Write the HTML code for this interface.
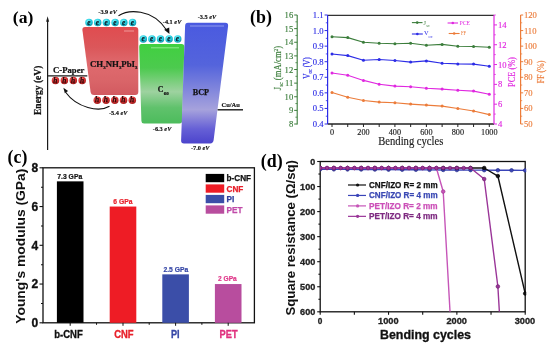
<!DOCTYPE html>
<html><head><meta charset="utf-8"><style>
html,body{margin:0;padding:0;background:#fff;}
svg{display:block;will-change:transform;}
</style></head><body>
<svg width="550" height="349" viewBox="0 0 550 349">
<rect width="550" height="349" fill="#fff"/>
<defs>
<radialGradient id="gc" cx="0.4" cy="0.35" r="0.7">
 <stop offset="0" stop-color="#90f8ff"/><stop offset="0.55" stop-color="#22d0e2"/><stop offset="1" stop-color="#1590aa"/>
</radialGradient>
<radialGradient id="gr" cx="0.4" cy="0.35" r="0.7">
 <stop offset="0" stop-color="#ff9090"/><stop offset="0.5" stop-color="#e03434"/><stop offset="1" stop-color="#a01c1c"/>
</radialGradient>
<linearGradient id="lr" x1="0" y1="0" x2="0" y2="1">
 <stop offset="0" stop-color="#e04c50"/><stop offset="0.3" stop-color="#db575a"/><stop offset="0.55" stop-color="#df6a6e"/><stop offset="0.8" stop-color="#d96468"/><stop offset="1" stop-color="#d25a60"/>
</linearGradient>
<linearGradient id="lg" x1="0" y1="0" x2="0" y2="1">
 <stop offset="0" stop-color="#40d040"/><stop offset="0.3" stop-color="#4cca4e"/><stop offset="0.6" stop-color="#9ed2a0"/><stop offset="0.8" stop-color="#60c26c"/><stop offset="1" stop-color="#4cbc5c"/>
</linearGradient>
<linearGradient id="lb" x1="0" y1="0" x2="0" y2="1">
 <stop offset="0" stop-color="#4a5ae0"/><stop offset="0.35" stop-color="#5464dc"/><stop offset="0.72" stop-color="#a6a2dc"/><stop offset="0.88" stop-color="#6660d6"/><stop offset="1" stop-color="#4c44cc"/>
</linearGradient>
</defs>
<text x="12.8" y="23.2" font-family='"Liberation Serif", serif' font-size="17.6" font-weight="bold" fill="#000" text-anchor="start" >(a)</text>
<line x1="47.6" y1="150" x2="47.6" y2="20" stroke="#1a1a1a" stroke-width="1.2" />
<path d="M47.6,16.2 L46.1,21.8 L49.1,21.8 Z" fill="#1a1a1a"/>
<text transform="translate(40.6,90.3) rotate(-90)" text-anchor="middle" font-family='"Liberation Serif", serif' font-size="9.5" font-weight="bold" fill="#111" stroke="#111" stroke-width="0.2">Energy (eV)</text>
<line x1="47.6" y1="75.8" x2="87.3" y2="75.8" stroke="#1a1a1a" stroke-width="1.2" />
<text x="53" y="72.8" font-family='"Liberation Serif", serif' font-size="8.7" font-weight="bold" fill="#111" text-anchor="start" stroke="#111" stroke-width="0.2" >C-Paper</text>
<path d="M85,27 L135.3,27 Q138.3,27 138.3,30 L138.3,92 Q138.3,95 135.3,95 L94,95 Q91,95 90.6,92 L82.4,30 Q82.2,27 85,27 Z" fill="url(#lr)"/>
<path d="M141.5,44 L181.5,44 Q184.5,44 184.3,47 L182.3,120.5 Q182.2,123.5 179.5,123.5 L144,123.5 Q141.5,123.5 141.4,121 L139.2,47 Q139.2,44 141.5,44 Z" fill="url(#lg)"/>
<path d="M188,22.8 L225.3,22.8 Q228.4,22.8 228.1,26 L213.6,140.3 Q213.2,143.4 210.2,143.4 L184,143.4 Q181,143.4 181.1,140.4 L185.1,26 Q185.2,22.8 188,22.8 Z" fill="url(#lb)"/>
<line x1="124" y1="31" x2="134" y2="31" stroke="#f09a9a" stroke-width="1" />
<line x1="151" y1="47.8" x2="179" y2="47.8" stroke="#98ec98" stroke-width="0.9" />
<line x1="190" y1="26" x2="224" y2="26" stroke="#98a4f0" stroke-width="0.9" />
<text x="90" y="66.5" font-family='"Liberation Serif", serif' font-size="9" font-weight="bold" fill="#111" stroke="#111" stroke-width="0.2" textLength="47.5" lengthAdjust="spacingAndGlyphs">CH<tspan font-size="5" dy="2.5">3</tspan><tspan dy="-2.5">NH</tspan><tspan font-size="5" dy="2.5">3</tspan><tspan dy="-2.5">PbI</tspan><tspan font-size="5" dy="2.5">3</tspan></text>
<text x="157.8" y="91.6" font-family='"Liberation Serif", serif' font-size="7.8" font-weight="bold" fill="#111" stroke="#111" stroke-width="0.2">C<tspan font-size="5" dy="3.2" dx="0.3">60</tspan></text>
<text x="192.8" y="95.1" font-family='"Liberation Serif", serif' font-size="9" font-weight="bold" fill="#111" text-anchor="start" textLength="16.3" lengthAdjust="spacingAndGlyphs" stroke="#111" stroke-width="0.25" >BCP</text>
<line x1="217.6" y1="109.8" x2="243" y2="109.8" stroke="#1a1a1a" stroke-width="1.4" />
<text x="221.5" y="107" font-family='"Liberation Serif", serif' font-size="6.5" font-weight="bold" fill="#111" text-anchor="start" stroke="#111" stroke-width="0.15" >Cu/Au</text>
<text x="98.3" y="13.8" font-family='"Liberation Serif", serif' font-size="6.3" font-weight="bold" fill="#111" stroke="#111" stroke-width="0.15">-3.9 <tspan font-style="italic">eV</tspan></text>
<text x="162.8" y="23.6" font-family='"Liberation Serif", serif' font-size="6.3" font-weight="bold" fill="#111" stroke="#111" stroke-width="0.15">-4.1 <tspan font-style="italic">eV</tspan></text>
<text x="197.7" y="18.6" font-family='"Liberation Serif", serif' font-size="6.3" font-weight="bold" fill="#111" stroke="#111" stroke-width="0.15">-3.5 <tspan font-style="italic">eV</tspan></text>
<text x="109" y="114.5" font-family='"Liberation Serif", serif' font-size="6.3" font-weight="bold" fill="#111" stroke="#111" stroke-width="0.15">-5.4 <tspan font-style="italic">eV</tspan></text>
<text x="152.8" y="131" font-family='"Liberation Serif", serif' font-size="6.3" font-weight="bold" fill="#111" stroke="#111" stroke-width="0.15">-6.3 <tspan font-style="italic">eV</tspan></text>
<text x="191" y="150" font-family='"Liberation Serif", serif' font-size="6.3" font-weight="bold" fill="#111" stroke="#111" stroke-width="0.15">-7.0 <tspan font-style="italic">eV</tspan></text>
<circle cx="89.00" cy="22.60" r="3.75" fill="url(#gc)" stroke="none" stroke-width="0"/>
<text x="88.80" y="24.70" font-family='"Liberation Serif", serif' font-size="7.4" font-weight="bold" font-style="italic" fill="#06202c" stroke="#06202c" stroke-width="0.25" text-anchor="middle">e</text>
<circle cx="97.70" cy="22.60" r="3.75" fill="url(#gc)" stroke="none" stroke-width="0"/>
<text x="97.50" y="24.70" font-family='"Liberation Serif", serif' font-size="7.4" font-weight="bold" font-style="italic" fill="#06202c" stroke="#06202c" stroke-width="0.25" text-anchor="middle">e</text>
<circle cx="106.40" cy="22.60" r="3.75" fill="url(#gc)" stroke="none" stroke-width="0"/>
<text x="106.20" y="24.70" font-family='"Liberation Serif", serif' font-size="7.4" font-weight="bold" font-style="italic" fill="#06202c" stroke="#06202c" stroke-width="0.25" text-anchor="middle">e</text>
<circle cx="115.10" cy="22.60" r="3.75" fill="url(#gc)" stroke="none" stroke-width="0"/>
<text x="114.90" y="24.70" font-family='"Liberation Serif", serif' font-size="7.4" font-weight="bold" font-style="italic" fill="#06202c" stroke="#06202c" stroke-width="0.25" text-anchor="middle">e</text>
<circle cx="123.80" cy="22.60" r="3.75" fill="url(#gc)" stroke="none" stroke-width="0"/>
<text x="123.60" y="24.70" font-family='"Liberation Serif", serif' font-size="7.4" font-weight="bold" font-style="italic" fill="#06202c" stroke="#06202c" stroke-width="0.25" text-anchor="middle">e</text>
<circle cx="132.50" cy="22.60" r="3.75" fill="url(#gc)" stroke="none" stroke-width="0"/>
<text x="132.30" y="24.70" font-family='"Liberation Serif", serif' font-size="7.4" font-weight="bold" font-style="italic" fill="#06202c" stroke="#06202c" stroke-width="0.25" text-anchor="middle">e</text>
<circle cx="143.30" cy="38.90" r="3.75" fill="url(#gc)" stroke="none" stroke-width="0"/>
<text x="143.10" y="41.00" font-family='"Liberation Serif", serif' font-size="7.4" font-weight="bold" font-style="italic" fill="#06202c" stroke="#06202c" stroke-width="0.25" text-anchor="middle">e</text>
<circle cx="151.90" cy="38.90" r="3.75" fill="url(#gc)" stroke="none" stroke-width="0"/>
<text x="151.70" y="41.00" font-family='"Liberation Serif", serif' font-size="7.4" font-weight="bold" font-style="italic" fill="#06202c" stroke="#06202c" stroke-width="0.25" text-anchor="middle">e</text>
<circle cx="160.50" cy="38.90" r="3.75" fill="url(#gc)" stroke="none" stroke-width="0"/>
<text x="160.30" y="41.00" font-family='"Liberation Serif", serif' font-size="7.4" font-weight="bold" font-style="italic" fill="#06202c" stroke="#06202c" stroke-width="0.25" text-anchor="middle">e</text>
<circle cx="169.10" cy="38.90" r="3.75" fill="url(#gc)" stroke="none" stroke-width="0"/>
<text x="168.90" y="41.00" font-family='"Liberation Serif", serif' font-size="7.4" font-weight="bold" font-style="italic" fill="#06202c" stroke="#06202c" stroke-width="0.25" text-anchor="middle">e</text>
<circle cx="177.70" cy="38.90" r="3.75" fill="url(#gc)" stroke="none" stroke-width="0"/>
<text x="177.50" y="41.00" font-family='"Liberation Serif", serif' font-size="7.4" font-weight="bold" font-style="italic" fill="#06202c" stroke="#06202c" stroke-width="0.25" text-anchor="middle">e</text>
<circle cx="55.50" cy="80.50" r="3.75" fill="url(#gr)" stroke="none" stroke-width="0"/>
<text x="55.30" y="82.60" font-family='"Liberation Serif", serif' font-size="7.4" font-weight="bold" font-style="italic" fill="#2a0404" stroke="#2a0404" stroke-width="0.25" text-anchor="middle">h</text>
<circle cx="64.40" cy="80.50" r="3.75" fill="url(#gr)" stroke="none" stroke-width="0"/>
<text x="64.20" y="82.60" font-family='"Liberation Serif", serif' font-size="7.4" font-weight="bold" font-style="italic" fill="#2a0404" stroke="#2a0404" stroke-width="0.25" text-anchor="middle">h</text>
<circle cx="73.30" cy="80.50" r="3.75" fill="url(#gr)" stroke="none" stroke-width="0"/>
<text x="73.10" y="82.60" font-family='"Liberation Serif", serif' font-size="7.4" font-weight="bold" font-style="italic" fill="#2a0404" stroke="#2a0404" stroke-width="0.25" text-anchor="middle">h</text>
<circle cx="82.20" cy="80.50" r="3.75" fill="url(#gr)" stroke="none" stroke-width="0"/>
<text x="82.00" y="82.60" font-family='"Liberation Serif", serif' font-size="7.4" font-weight="bold" font-style="italic" fill="#2a0404" stroke="#2a0404" stroke-width="0.25" text-anchor="middle">h</text>
<circle cx="97.30" cy="100.20" r="3.75" fill="url(#gr)" stroke="none" stroke-width="0"/>
<text x="97.10" y="102.30" font-family='"Liberation Serif", serif' font-size="7.4" font-weight="bold" font-style="italic" fill="#2a0404" stroke="#2a0404" stroke-width="0.25" text-anchor="middle">h</text>
<circle cx="106.05" cy="100.20" r="3.75" fill="url(#gr)" stroke="none" stroke-width="0"/>
<text x="105.85" y="102.30" font-family='"Liberation Serif", serif' font-size="7.4" font-weight="bold" font-style="italic" fill="#2a0404" stroke="#2a0404" stroke-width="0.25" text-anchor="middle">h</text>
<circle cx="114.80" cy="100.20" r="3.75" fill="url(#gr)" stroke="none" stroke-width="0"/>
<text x="114.60" y="102.30" font-family='"Liberation Serif", serif' font-size="7.4" font-weight="bold" font-style="italic" fill="#2a0404" stroke="#2a0404" stroke-width="0.25" text-anchor="middle">h</text>
<circle cx="123.55" cy="100.20" r="3.75" fill="url(#gr)" stroke="none" stroke-width="0"/>
<text x="123.35" y="102.30" font-family='"Liberation Serif", serif' font-size="7.4" font-weight="bold" font-style="italic" fill="#2a0404" stroke="#2a0404" stroke-width="0.25" text-anchor="middle">h</text>
<circle cx="132.30" cy="100.20" r="3.75" fill="url(#gr)" stroke="none" stroke-width="0"/>
<text x="132.10" y="102.30" font-family='"Liberation Serif", serif' font-size="7.4" font-weight="bold" font-style="italic" fill="#2a0404" stroke="#2a0404" stroke-width="0.25" text-anchor="middle">h</text>
<path d="M118.5,15.8 C128,9.5 152,8 166.5,30" fill="none" stroke="#111" stroke-width="1.1"/>
<path d="M169.5,34 L164.2,29.8 L169.2,27.6 Z" fill="#111"/>
<path d="M109.5,106.3 C99,112.5 77,108 65.6,92.3" fill="none" stroke="#111" stroke-width="1.1"/>
<path d="M63.4,87.8 L68.1,90.9 L64.8,93.3 Z" fill="#111"/>
<text x="250.0" y="23.2" font-family='"Liberation Serif", serif' font-size="17.9" font-weight="bold" fill="#000" text-anchor="start" >(b)</text>
<line x1="327.6" y1="15.3" x2="494" y2="15.3" stroke="#333" stroke-width="1.2" />
<line x1="327.6" y1="124.0" x2="494" y2="124.0" stroke="#222" stroke-width="1.3" />
<line x1="332.0" y1="124.0" x2="332.0" y2="127.0" stroke="#222" stroke-width="1" />
<line x1="347.73" y1="124.0" x2="347.73" y2="127.0" stroke="#222" stroke-width="1" />
<line x1="363.46" y1="124.0" x2="363.46" y2="127.0" stroke="#222" stroke-width="1" />
<line x1="379.19" y1="124.0" x2="379.19" y2="127.0" stroke="#222" stroke-width="1" />
<line x1="394.92" y1="124.0" x2="394.92" y2="127.0" stroke="#222" stroke-width="1" />
<line x1="410.65" y1="124.0" x2="410.65" y2="127.0" stroke="#222" stroke-width="1" />
<line x1="426.38" y1="124.0" x2="426.38" y2="127.0" stroke="#222" stroke-width="1" />
<line x1="442.11" y1="124.0" x2="442.11" y2="127.0" stroke="#222" stroke-width="1" />
<line x1="457.84000000000003" y1="124.0" x2="457.84000000000003" y2="127.0" stroke="#222" stroke-width="1" />
<line x1="473.57" y1="124.0" x2="473.57" y2="127.0" stroke="#222" stroke-width="1" />
<line x1="489.29999999999995" y1="124.0" x2="489.29999999999995" y2="127.0" stroke="#222" stroke-width="1" />
<text x="332.0" y="134.5" font-family='"Liberation Serif", serif' font-size="8.2" font-weight="normal" fill="#222" text-anchor="middle" stroke="#222" stroke-width="0.15" >0</text>
<text x="363.46" y="134.5" font-family='"Liberation Serif", serif' font-size="8.2" font-weight="normal" fill="#222" text-anchor="middle" stroke="#222" stroke-width="0.15" >200</text>
<text x="394.92" y="134.5" font-family='"Liberation Serif", serif' font-size="8.2" font-weight="normal" fill="#222" text-anchor="middle" stroke="#222" stroke-width="0.15" >400</text>
<text x="426.38" y="134.5" font-family='"Liberation Serif", serif' font-size="8.2" font-weight="normal" fill="#222" text-anchor="middle" stroke="#222" stroke-width="0.15" >600</text>
<text x="457.84000000000003" y="134.5" font-family='"Liberation Serif", serif' font-size="8.2" font-weight="normal" fill="#222" text-anchor="middle" stroke="#222" stroke-width="0.15" >800</text>
<text x="489.29999999999995" y="134.5" font-family='"Liberation Serif", serif' font-size="8.2" font-weight="normal" fill="#222" text-anchor="middle" stroke="#222" stroke-width="0.15" >1000</text>
<text x="378.3" y="145.1" font-family='"Liberation Serif", serif' font-size="12" font-weight="normal" fill="#222" text-anchor="start" textLength="65" lengthAdjust="spacingAndGlyphs" stroke="#222" stroke-width="0.15" >Bending cycles</text>
<line x1="297.2" y1="15.0" x2="297.2" y2="124.5" stroke="#3b7d3b" stroke-width="1.1" />
<line x1="294.2" y1="124.0" x2="297.2" y2="124.0" stroke="#3b7d3b" stroke-width="1" />
<text x="293.2" y="127.0" font-family='"Liberation Serif", serif' font-size="8.6" font-weight="normal" fill="#3b7d3b" text-anchor="end" stroke="#3b7d3b" stroke-width="0.15" >8</text>
<line x1="294.2" y1="110.375" x2="297.2" y2="110.375" stroke="#3b7d3b" stroke-width="1" />
<text x="293.2" y="113.375" font-family='"Liberation Serif", serif' font-size="8.6" font-weight="normal" fill="#3b7d3b" text-anchor="end" stroke="#3b7d3b" stroke-width="0.15" >9</text>
<line x1="294.2" y1="96.75" x2="297.2" y2="96.75" stroke="#3b7d3b" stroke-width="1" />
<text x="293.2" y="99.75" font-family='"Liberation Serif", serif' font-size="8.6" font-weight="normal" fill="#3b7d3b" text-anchor="end" stroke="#3b7d3b" stroke-width="0.15" >10</text>
<line x1="294.2" y1="83.125" x2="297.2" y2="83.125" stroke="#3b7d3b" stroke-width="1" />
<text x="293.2" y="86.125" font-family='"Liberation Serif", serif' font-size="8.6" font-weight="normal" fill="#3b7d3b" text-anchor="end" stroke="#3b7d3b" stroke-width="0.15" >11</text>
<line x1="294.2" y1="69.5" x2="297.2" y2="69.5" stroke="#3b7d3b" stroke-width="1" />
<text x="293.2" y="72.5" font-family='"Liberation Serif", serif' font-size="8.6" font-weight="normal" fill="#3b7d3b" text-anchor="end" stroke="#3b7d3b" stroke-width="0.15" >12</text>
<line x1="294.2" y1="55.875" x2="297.2" y2="55.875" stroke="#3b7d3b" stroke-width="1" />
<text x="293.2" y="58.875" font-family='"Liberation Serif", serif' font-size="8.6" font-weight="normal" fill="#3b7d3b" text-anchor="end" stroke="#3b7d3b" stroke-width="0.15" >13</text>
<line x1="294.2" y1="42.25" x2="297.2" y2="42.25" stroke="#3b7d3b" stroke-width="1" />
<text x="293.2" y="45.25" font-family='"Liberation Serif", serif' font-size="8.6" font-weight="normal" fill="#3b7d3b" text-anchor="end" stroke="#3b7d3b" stroke-width="0.15" >14</text>
<line x1="294.2" y1="28.625" x2="297.2" y2="28.625" stroke="#3b7d3b" stroke-width="1" />
<text x="293.2" y="31.625" font-family='"Liberation Serif", serif' font-size="8.6" font-weight="normal" fill="#3b7d3b" text-anchor="end" stroke="#3b7d3b" stroke-width="0.15" >15</text>
<line x1="294.2" y1="15.0" x2="297.2" y2="15.0" stroke="#3b7d3b" stroke-width="1" />
<text x="293.2" y="18.0" font-family='"Liberation Serif", serif' font-size="8.6" font-weight="normal" fill="#3b7d3b" text-anchor="end" stroke="#3b7d3b" stroke-width="0.15" >16</text>
<line x1="295.4" y1="117.1875" x2="297.2" y2="117.1875" stroke="#3b7d3b" stroke-width="0.8" />
<line x1="295.4" y1="103.5625" x2="297.2" y2="103.5625" stroke="#3b7d3b" stroke-width="0.8" />
<line x1="295.4" y1="89.9375" x2="297.2" y2="89.9375" stroke="#3b7d3b" stroke-width="0.8" />
<line x1="295.4" y1="76.3125" x2="297.2" y2="76.3125" stroke="#3b7d3b" stroke-width="0.8" />
<line x1="295.4" y1="62.6875" x2="297.2" y2="62.6875" stroke="#3b7d3b" stroke-width="0.8" />
<line x1="295.4" y1="49.0625" x2="297.2" y2="49.0625" stroke="#3b7d3b" stroke-width="0.8" />
<line x1="295.4" y1="35.4375" x2="297.2" y2="35.4375" stroke="#3b7d3b" stroke-width="0.8" />
<line x1="295.4" y1="21.8125" x2="297.2" y2="21.8125" stroke="#3b7d3b" stroke-width="0.8" />
<text transform="translate(281.3,68) rotate(-90)" text-anchor="middle" font-family='"Liberation Serif", serif' font-size="9.5" fill="#3b7d3b" stroke="#3b7d3b" stroke-width="0.15" textLength="44.4" lengthAdjust="spacingAndGlyphs">J<tspan font-size="6" dy="2">sc</tspan><tspan dy="-2"> (mA/cm</tspan><tspan font-size="6" dy="-3">2</tspan><tspan dy="3">)</tspan></text>
<line x1="327.6" y1="15.0" x2="327.6" y2="124.0" stroke="#2c2ce6" stroke-width="1.2" />
<line x1="324.6" y1="124.0" x2="327.6" y2="124.0" stroke="#2c2ce6" stroke-width="1" />
<text x="323.6" y="127.0" font-family='"Liberation Serif", serif' font-size="8.6" font-weight="normal" fill="#2c2ce6" text-anchor="end" stroke="#2c2ce6" stroke-width="0.15" >0.4</text>
<line x1="324.6" y1="108.42857142857143" x2="327.6" y2="108.42857142857143" stroke="#2c2ce6" stroke-width="1" />
<text x="323.6" y="111.42857142857143" font-family='"Liberation Serif", serif' font-size="8.6" font-weight="normal" fill="#2c2ce6" text-anchor="end" stroke="#2c2ce6" stroke-width="0.15" >0.5</text>
<line x1="324.6" y1="92.85714285714285" x2="327.6" y2="92.85714285714285" stroke="#2c2ce6" stroke-width="1" />
<text x="323.6" y="95.85714285714285" font-family='"Liberation Serif", serif' font-size="8.6" font-weight="normal" fill="#2c2ce6" text-anchor="end" stroke="#2c2ce6" stroke-width="0.15" >0.6</text>
<line x1="324.6" y1="77.28571428571428" x2="327.6" y2="77.28571428571428" stroke="#2c2ce6" stroke-width="1" />
<text x="323.6" y="80.28571428571428" font-family='"Liberation Serif", serif' font-size="8.6" font-weight="normal" fill="#2c2ce6" text-anchor="end" stroke="#2c2ce6" stroke-width="0.15" >0.7</text>
<line x1="324.6" y1="61.71428571428571" x2="327.6" y2="61.71428571428571" stroke="#2c2ce6" stroke-width="1" />
<text x="323.6" y="64.71428571428571" font-family='"Liberation Serif", serif' font-size="8.6" font-weight="normal" fill="#2c2ce6" text-anchor="end" stroke="#2c2ce6" stroke-width="0.15" >0.8</text>
<line x1="324.6" y1="46.14285714285714" x2="327.6" y2="46.14285714285714" stroke="#2c2ce6" stroke-width="1" />
<text x="323.6" y="49.14285714285714" font-family='"Liberation Serif", serif' font-size="8.6" font-weight="normal" fill="#2c2ce6" text-anchor="end" stroke="#2c2ce6" stroke-width="0.15" >0.9</text>
<line x1="324.6" y1="30.571428571428584" x2="327.6" y2="30.571428571428584" stroke="#2c2ce6" stroke-width="1" />
<text x="323.6" y="33.571428571428584" font-family='"Liberation Serif", serif' font-size="8.6" font-weight="normal" fill="#2c2ce6" text-anchor="end" stroke="#2c2ce6" stroke-width="0.15" >1.0</text>
<line x1="324.6" y1="14.999999999999972" x2="327.6" y2="14.999999999999972" stroke="#2c2ce6" stroke-width="1" />
<text x="323.6" y="17.99999999999997" font-family='"Liberation Serif", serif' font-size="8.6" font-weight="normal" fill="#2c2ce6" text-anchor="end" stroke="#2c2ce6" stroke-width="0.15" >1.1</text>
<line x1="325.8" y1="116.21428571428572" x2="327.6" y2="116.21428571428572" stroke="#2c2ce6" stroke-width="0.8" />
<line x1="325.8" y1="100.64285714285714" x2="327.6" y2="100.64285714285714" stroke="#2c2ce6" stroke-width="0.8" />
<line x1="325.8" y1="85.07142857142857" x2="327.6" y2="85.07142857142857" stroke="#2c2ce6" stroke-width="0.8" />
<line x1="325.8" y1="69.5" x2="327.6" y2="69.5" stroke="#2c2ce6" stroke-width="0.8" />
<line x1="325.8" y1="53.928571428571416" x2="327.6" y2="53.928571428571416" stroke="#2c2ce6" stroke-width="0.8" />
<line x1="325.8" y1="38.35714285714286" x2="327.6" y2="38.35714285714286" stroke="#2c2ce6" stroke-width="0.8" />
<line x1="325.8" y1="22.785714285714263" x2="327.6" y2="22.785714285714263" stroke="#2c2ce6" stroke-width="0.8" />
<text transform="translate(310.3,68) rotate(-90)" text-anchor="middle" font-family='"Liberation Serif", serif' font-size="9.5" fill="#2c2ce6" stroke="#2c2ce6" stroke-width="0.15" textLength="21.5" lengthAdjust="spacingAndGlyphs">V<tspan font-size="6" dy="2">oc</tspan><tspan dy="-2"> (V)</tspan></text>
<line x1="494.0" y1="15.0" x2="494.0" y2="124.0" stroke="#e028e0" stroke-width="1.2" />
<line x1="494.0" y1="124.0" x2="497.0" y2="124.0" stroke="#e028e0" stroke-width="1" />
<text x="498.0" y="127.0" font-family='"Liberation Serif", serif' font-size="8.6" font-weight="normal" fill="#e028e0" text-anchor="start" stroke="#e028e0" stroke-width="0.15" >4</text>
<line x1="494.0" y1="114.0909090909091" x2="495.8" y2="114.0909090909091" stroke="#e028e0" stroke-width="0.8" />
<line x1="494.0" y1="104.18181818181819" x2="497.0" y2="104.18181818181819" stroke="#e028e0" stroke-width="1" />
<text x="498.0" y="107.18181818181819" font-family='"Liberation Serif", serif' font-size="8.6" font-weight="normal" fill="#e028e0" text-anchor="start" stroke="#e028e0" stroke-width="0.15" >6</text>
<line x1="494.0" y1="94.27272727272728" x2="495.8" y2="94.27272727272728" stroke="#e028e0" stroke-width="0.8" />
<line x1="494.0" y1="84.36363636363637" x2="497.0" y2="84.36363636363637" stroke="#e028e0" stroke-width="1" />
<text x="498.0" y="87.36363636363637" font-family='"Liberation Serif", serif' font-size="8.6" font-weight="normal" fill="#e028e0" text-anchor="start" stroke="#e028e0" stroke-width="0.15" >8</text>
<line x1="494.0" y1="74.45454545454545" x2="495.8" y2="74.45454545454545" stroke="#e028e0" stroke-width="0.8" />
<line x1="494.0" y1="64.54545454545455" x2="497.0" y2="64.54545454545455" stroke="#e028e0" stroke-width="1" />
<text x="498.0" y="67.54545454545455" font-family='"Liberation Serif", serif' font-size="8.6" font-weight="normal" fill="#e028e0" text-anchor="start" stroke="#e028e0" stroke-width="0.15" >10</text>
<line x1="494.0" y1="54.63636363636364" x2="495.8" y2="54.63636363636364" stroke="#e028e0" stroke-width="0.8" />
<line x1="494.0" y1="44.727272727272734" x2="497.0" y2="44.727272727272734" stroke="#e028e0" stroke-width="1" />
<text x="498.0" y="47.727272727272734" font-family='"Liberation Serif", serif' font-size="8.6" font-weight="normal" fill="#e028e0" text-anchor="start" stroke="#e028e0" stroke-width="0.15" >12</text>
<line x1="494.0" y1="34.81818181818181" x2="495.8" y2="34.81818181818181" stroke="#e028e0" stroke-width="0.8" />
<line x1="494.0" y1="24.909090909090907" x2="497.0" y2="24.909090909090907" stroke="#e028e0" stroke-width="1" />
<text x="498.0" y="27.909090909090907" font-family='"Liberation Serif", serif' font-size="8.6" font-weight="normal" fill="#e028e0" text-anchor="start" stroke="#e028e0" stroke-width="0.15" >14</text>
<line x1="494.0" y1="15.0" x2="495.8" y2="15.0" stroke="#e028e0" stroke-width="0.8" />
<text transform="translate(515.3,72.05) rotate(-90)" text-anchor="middle" font-family='"Liberation Serif", serif' font-size="9.3" fill="#e028e0" stroke="#e028e0" stroke-width="0.15" textLength="29.7" lengthAdjust="spacingAndGlyphs">PCE (%)</text>
<line x1="520.6" y1="15.0" x2="520.6" y2="124.0" stroke="#ec7c3a" stroke-width="1.2" />
<line x1="520.6" y1="124.0" x2="523.2" y2="124.0" stroke="#ec7c3a" stroke-width="1" />
<text x="523.9" y="127.0" font-family='"Liberation Serif", serif' font-size="8.6" font-weight="normal" fill="#ec7c3a" text-anchor="start" stroke="#ec7c3a" stroke-width="0.15" >50</text>
<line x1="520.6" y1="116.21428571428571" x2="522.2" y2="116.21428571428571" stroke="#ec7c3a" stroke-width="0.8" />
<line x1="520.6" y1="108.42857142857143" x2="523.2" y2="108.42857142857143" stroke="#ec7c3a" stroke-width="1" />
<text x="523.9" y="111.42857142857143" font-family='"Liberation Serif", serif' font-size="8.6" font-weight="normal" fill="#ec7c3a" text-anchor="start" stroke="#ec7c3a" stroke-width="0.15" >60</text>
<line x1="520.6" y1="100.64285714285714" x2="522.2" y2="100.64285714285714" stroke="#ec7c3a" stroke-width="0.8" />
<line x1="520.6" y1="92.85714285714286" x2="523.2" y2="92.85714285714286" stroke="#ec7c3a" stroke-width="1" />
<text x="523.9" y="95.85714285714286" font-family='"Liberation Serif", serif' font-size="8.6" font-weight="normal" fill="#ec7c3a" text-anchor="start" stroke="#ec7c3a" stroke-width="0.15" >70</text>
<line x1="520.6" y1="85.07142857142857" x2="522.2" y2="85.07142857142857" stroke="#ec7c3a" stroke-width="0.8" />
<line x1="520.6" y1="77.28571428571428" x2="523.2" y2="77.28571428571428" stroke="#ec7c3a" stroke-width="1" />
<text x="523.9" y="80.28571428571428" font-family='"Liberation Serif", serif' font-size="8.6" font-weight="normal" fill="#ec7c3a" text-anchor="start" stroke="#ec7c3a" stroke-width="0.15" >80</text>
<line x1="520.6" y1="69.5" x2="522.2" y2="69.5" stroke="#ec7c3a" stroke-width="0.8" />
<line x1="520.6" y1="61.714285714285715" x2="523.2" y2="61.714285714285715" stroke="#ec7c3a" stroke-width="1" />
<text x="523.9" y="64.71428571428572" font-family='"Liberation Serif", serif' font-size="8.6" font-weight="normal" fill="#ec7c3a" text-anchor="start" stroke="#ec7c3a" stroke-width="0.15" >90</text>
<line x1="520.6" y1="53.92857142857143" x2="522.2" y2="53.92857142857143" stroke="#ec7c3a" stroke-width="0.8" />
<line x1="520.6" y1="46.14285714285714" x2="523.2" y2="46.14285714285714" stroke="#ec7c3a" stroke-width="1" />
<text x="523.9" y="49.14285714285714" font-family='"Liberation Serif", serif' font-size="8.6" font-weight="normal" fill="#ec7c3a" text-anchor="start" stroke="#ec7c3a" stroke-width="0.15" >100</text>
<line x1="520.6" y1="38.35714285714286" x2="522.2" y2="38.35714285714286" stroke="#ec7c3a" stroke-width="0.8" />
<line x1="520.6" y1="30.57142857142857" x2="523.2" y2="30.57142857142857" stroke="#ec7c3a" stroke-width="1" />
<text x="523.9" y="33.57142857142857" font-family='"Liberation Serif", serif' font-size="8.6" font-weight="normal" fill="#ec7c3a" text-anchor="start" stroke="#ec7c3a" stroke-width="0.15" >110</text>
<line x1="520.6" y1="22.785714285714292" x2="522.2" y2="22.785714285714292" stroke="#ec7c3a" stroke-width="0.8" />
<line x1="520.6" y1="15.0" x2="523.2" y2="15.0" stroke="#ec7c3a" stroke-width="1" />
<text x="523.9" y="18.0" font-family='"Liberation Serif", serif' font-size="8.6" font-weight="normal" fill="#ec7c3a" text-anchor="start" stroke="#ec7c3a" stroke-width="0.15" >120</text>
<text transform="translate(543.5,72.05) rotate(-90)" text-anchor="middle" font-family='"Liberation Serif", serif' font-size="9.3" fill="#ec7c3a" stroke="#ec7c3a" stroke-width="0.15" textLength="22.9" lengthAdjust="spacingAndGlyphs">FF (%)</text>
<polyline points="332.00,36.70 347.73,37.60 363.46,42.30 379.19,43.30 394.92,43.70 410.65,43.30 426.38,45.30 442.11,44.40 457.84,46.30 473.57,46.50 489.30,47.20" fill="none" stroke="#3b7d3b" stroke-width="1.1" stroke-linejoin="round"/>
<circle cx="332.00" cy="36.70" r="1.5" fill="#3b7d3b" stroke="none" stroke-width="0"/>
<circle cx="347.73" cy="37.60" r="1.5" fill="#3b7d3b" stroke="none" stroke-width="0"/>
<circle cx="363.46" cy="42.30" r="1.5" fill="#3b7d3b" stroke="none" stroke-width="0"/>
<circle cx="379.19" cy="43.30" r="1.5" fill="#3b7d3b" stroke="none" stroke-width="0"/>
<circle cx="394.92" cy="43.70" r="1.5" fill="#3b7d3b" stroke="none" stroke-width="0"/>
<circle cx="410.65" cy="43.30" r="1.5" fill="#3b7d3b" stroke="none" stroke-width="0"/>
<circle cx="426.38" cy="45.30" r="1.5" fill="#3b7d3b" stroke="none" stroke-width="0"/>
<circle cx="442.11" cy="44.40" r="1.5" fill="#3b7d3b" stroke="none" stroke-width="0"/>
<circle cx="457.84" cy="46.30" r="1.5" fill="#3b7d3b" stroke="none" stroke-width="0"/>
<circle cx="473.57" cy="46.50" r="1.5" fill="#3b7d3b" stroke="none" stroke-width="0"/>
<circle cx="489.30" cy="47.20" r="1.5" fill="#3b7d3b" stroke="none" stroke-width="0"/>
<polyline points="332.00,54.00 347.73,55.60 363.46,60.20 379.19,59.50 394.92,60.50 410.65,62.10 426.38,60.90 442.11,63.20 457.84,63.90 473.57,64.10 489.30,66.20" fill="none" stroke="#2c2ce6" stroke-width="1.1" stroke-linejoin="round"/>
<circle cx="332.00" cy="54.00" r="1.5" fill="#2c2ce6" stroke="none" stroke-width="0"/>
<circle cx="347.73" cy="55.60" r="1.5" fill="#2c2ce6" stroke="none" stroke-width="0"/>
<circle cx="363.46" cy="60.20" r="1.5" fill="#2c2ce6" stroke="none" stroke-width="0"/>
<circle cx="379.19" cy="59.50" r="1.5" fill="#2c2ce6" stroke="none" stroke-width="0"/>
<circle cx="394.92" cy="60.50" r="1.5" fill="#2c2ce6" stroke="none" stroke-width="0"/>
<circle cx="410.65" cy="62.10" r="1.5" fill="#2c2ce6" stroke="none" stroke-width="0"/>
<circle cx="426.38" cy="60.90" r="1.5" fill="#2c2ce6" stroke="none" stroke-width="0"/>
<circle cx="442.11" cy="63.20" r="1.5" fill="#2c2ce6" stroke="none" stroke-width="0"/>
<circle cx="457.84" cy="63.90" r="1.5" fill="#2c2ce6" stroke="none" stroke-width="0"/>
<circle cx="473.57" cy="64.10" r="1.5" fill="#2c2ce6" stroke="none" stroke-width="0"/>
<circle cx="489.30" cy="66.20" r="1.5" fill="#2c2ce6" stroke="none" stroke-width="0"/>
<polyline points="332.00,73.00 347.73,75.30 363.46,80.40 379.19,84.30 394.92,86.10 410.65,86.80 426.38,88.20 442.11,89.10 457.84,90.20 473.57,91.10 489.30,94.30" fill="none" stroke="#e028e0" stroke-width="1.1" stroke-linejoin="round"/>
<circle cx="332.00" cy="73.00" r="1.5" fill="#e028e0" stroke="none" stroke-width="0"/>
<circle cx="347.73" cy="75.30" r="1.5" fill="#e028e0" stroke="none" stroke-width="0"/>
<circle cx="363.46" cy="80.40" r="1.5" fill="#e028e0" stroke="none" stroke-width="0"/>
<circle cx="379.19" cy="84.30" r="1.5" fill="#e028e0" stroke="none" stroke-width="0"/>
<circle cx="394.92" cy="86.10" r="1.5" fill="#e028e0" stroke="none" stroke-width="0"/>
<circle cx="410.65" cy="86.80" r="1.5" fill="#e028e0" stroke="none" stroke-width="0"/>
<circle cx="426.38" cy="88.20" r="1.5" fill="#e028e0" stroke="none" stroke-width="0"/>
<circle cx="442.11" cy="89.10" r="1.5" fill="#e028e0" stroke="none" stroke-width="0"/>
<circle cx="457.84" cy="90.20" r="1.5" fill="#e028e0" stroke="none" stroke-width="0"/>
<circle cx="473.57" cy="91.10" r="1.5" fill="#e028e0" stroke="none" stroke-width="0"/>
<circle cx="489.30" cy="94.30" r="1.5" fill="#e028e0" stroke="none" stroke-width="0"/>
<polyline points="332.00,92.50 347.73,97.30 363.46,100.50 379.19,102.10 394.92,102.80 410.65,104.10 426.38,105.10 442.11,106.10 457.84,108.50 473.57,111.00 489.30,114.60" fill="none" stroke="#ec7c3a" stroke-width="1.1" stroke-linejoin="round"/>
<circle cx="332.00" cy="92.50" r="1.5" fill="#ec7c3a" stroke="none" stroke-width="0"/>
<circle cx="347.73" cy="97.30" r="1.5" fill="#ec7c3a" stroke="none" stroke-width="0"/>
<circle cx="363.46" cy="100.50" r="1.5" fill="#ec7c3a" stroke="none" stroke-width="0"/>
<circle cx="379.19" cy="102.10" r="1.5" fill="#ec7c3a" stroke="none" stroke-width="0"/>
<circle cx="394.92" cy="102.80" r="1.5" fill="#ec7c3a" stroke="none" stroke-width="0"/>
<circle cx="410.65" cy="104.10" r="1.5" fill="#ec7c3a" stroke="none" stroke-width="0"/>
<circle cx="426.38" cy="105.10" r="1.5" fill="#ec7c3a" stroke="none" stroke-width="0"/>
<circle cx="442.11" cy="106.10" r="1.5" fill="#ec7c3a" stroke="none" stroke-width="0"/>
<circle cx="457.84" cy="108.50" r="1.5" fill="#ec7c3a" stroke="none" stroke-width="0"/>
<circle cx="473.57" cy="111.00" r="1.5" fill="#ec7c3a" stroke="none" stroke-width="0"/>
<circle cx="489.30" cy="114.60" r="1.5" fill="#ec7c3a" stroke="none" stroke-width="0"/>
<line x1="411.9" y1="22.6" x2="422.5" y2="22.6" stroke="#3b7d3b" stroke-width="1.1" />
<circle cx="417.20" cy="22.60" r="1.3" fill="#3b7d3b" stroke="none" stroke-width="0"/>
<line x1="411.9" y1="34.0" x2="422.8" y2="34.0" stroke="#2c2ce6" stroke-width="1.1" />
<circle cx="417.35" cy="34.00" r="1.3" fill="#2c2ce6" stroke="none" stroke-width="0"/>
<line x1="447.6" y1="23.0" x2="458.0" y2="23.0" stroke="#e028e0" stroke-width="1.1" />
<circle cx="452.80" cy="23.00" r="1.3" fill="#e028e0" stroke="none" stroke-width="0"/>
<line x1="448.7" y1="33.5" x2="459.6" y2="33.5" stroke="#ec7c3a" stroke-width="1.1" />
<circle cx="454.15" cy="33.50" r="1.3" fill="#ec7c3a" stroke="none" stroke-width="0"/>
<text x="423.6" y="24.8" font-family='"Liberation Serif", serif' font-size="6.3" fill="#3b7d3b">J<tspan font-size="4.2" dy="1.8" dx="0.3">sc</tspan></text>
<text x="423.9" y="35" font-family='"Liberation Serif", serif' font-size="6.3" fill="#2c2ce6">V<tspan font-size="4.2" dy="2.6" dx="0.1">oc</tspan></text>
<text x="459.4" y="24.8" font-family='"Liberation Serif", serif' font-size="6.3" font-weight="normal" fill="#e028e0" text-anchor="start" textLength="10.8" lengthAdjust="spacingAndGlyphs" >PCE</text>
<text x="461.0" y="34.8" font-family='"Liberation Serif", serif' font-size="6.3" font-weight="normal" fill="#ec7c3a" text-anchor="start" textLength="5.2" lengthAdjust="spacingAndGlyphs" >FF</text>
<text x="7.6" y="162.6" font-family='"Liberation Serif", serif' font-size="17.8" font-weight="bold" fill="#000" text-anchor="start" >(c)</text>
<rect x="43.0" y="167.8" width="211.4" height="155.0" fill="none" stroke="#111" stroke-width="1.3"/>
<line x1="39.5" y1="322.8" x2="43.0" y2="322.8" stroke="#111" stroke-width="1.1" />
<line x1="41.0" y1="303.425" x2="43.0" y2="303.425" stroke="#111" stroke-width="1.1" />
<line x1="39.5" y1="284.05" x2="43.0" y2="284.05" stroke="#111" stroke-width="1.1" />
<line x1="41.0" y1="264.675" x2="43.0" y2="264.675" stroke="#111" stroke-width="1.1" />
<line x1="39.5" y1="245.3" x2="43.0" y2="245.3" stroke="#111" stroke-width="1.1" />
<line x1="41.0" y1="225.925" x2="43.0" y2="225.925" stroke="#111" stroke-width="1.1" />
<line x1="39.5" y1="206.55" x2="43.0" y2="206.55" stroke="#111" stroke-width="1.1" />
<line x1="41.0" y1="187.175" x2="43.0" y2="187.175" stroke="#111" stroke-width="1.1" />
<line x1="39.5" y1="167.8" x2="43.0" y2="167.8" stroke="#111" stroke-width="1.1" />
<text x="38.2" y="327.1" font-family='"Liberation Sans", sans-serif' font-size="12" font-weight="bold" fill="#111" text-anchor="end" stroke="#111" stroke-width="0.35" >0</text>
<text x="38.2" y="288.35" font-family='"Liberation Sans", sans-serif' font-size="12" font-weight="bold" fill="#111" text-anchor="end" stroke="#111" stroke-width="0.35" >2</text>
<text x="38.2" y="249.60000000000002" font-family='"Liberation Sans", sans-serif' font-size="12" font-weight="bold" fill="#111" text-anchor="end" stroke="#111" stroke-width="0.35" >4</text>
<text x="38.2" y="210.85000000000002" font-family='"Liberation Sans", sans-serif' font-size="12" font-weight="bold" fill="#111" text-anchor="end" stroke="#111" stroke-width="0.35" >6</text>
<text x="38.2" y="172.10000000000002" font-family='"Liberation Sans", sans-serif' font-size="12" font-weight="bold" fill="#111" text-anchor="end" stroke="#111" stroke-width="0.35" >8</text>
<text transform="translate(24.8,246.2) rotate(-90)" text-anchor="middle" font-family='"Liberation Sans", sans-serif' font-size="13.6" font-weight="bold" fill="#111" textLength="155" lengthAdjust="spacingAndGlyphs">Young's modulus (GPa)</text>
<rect x="56.9" y="181.36" width="26.6" height="141.44" fill="#000000"/>
<text x="57.3" y="178.76250000000002" font-family='"Liberation Sans", sans-serif' font-size="6.8" font-weight="bold" fill="#111" text-anchor="start" textLength="24.9" lengthAdjust="spacingAndGlyphs" stroke="#111" stroke-width="0.2" >7.3 GPa</text>
<text x="54.2" y="337.6" font-family='"Liberation Sans", sans-serif' font-size="10" font-weight="bold" fill="#111" text-anchor="start" textLength="28.5" lengthAdjust="spacingAndGlyphs" stroke="#111" stroke-width="0.3" >b-CNF</text>
<line x1="70.2" y1="322.8" x2="70.2" y2="325.8" stroke="#111" stroke-width="1" />
<rect x="109.7" y="206.55" width="26.6" height="116.25" fill="#ee1c25"/>
<text x="113.3" y="203.95000000000002" font-family='"Liberation Sans", sans-serif' font-size="6.8" font-weight="bold" fill="#e8202a" text-anchor="start" textLength="19.1" lengthAdjust="spacingAndGlyphs" stroke="#e8202a" stroke-width="0.2" >6 GPa</text>
<text x="114.2" y="337.6" font-family='"Liberation Sans", sans-serif' font-size="10" font-weight="bold" fill="#e8202a" text-anchor="start" textLength="19.4" lengthAdjust="spacingAndGlyphs" stroke="#e8202a" stroke-width="0.3" >CNF</text>
<line x1="123.0" y1="322.8" x2="123.0" y2="325.8" stroke="#111" stroke-width="1" />
<rect x="162.3" y="274.36" width="26.6" height="48.44" fill="#3b4ea8"/>
<text x="163.5" y="271.7625" font-family='"Liberation Sans", sans-serif' font-size="6.8" font-weight="bold" fill="#3546a6" text-anchor="start" textLength="24.7" lengthAdjust="spacingAndGlyphs" stroke="#3546a6" stroke-width="0.2" >2.5 GPa</text>
<text x="170.9" y="337.6" font-family='"Liberation Sans", sans-serif' font-size="10" font-weight="bold" fill="#3546a6" text-anchor="start" textLength="8.6" lengthAdjust="spacingAndGlyphs" stroke="#3546a6" stroke-width="0.3" >PI</text>
<line x1="175.60000000000002" y1="322.8" x2="175.60000000000002" y2="325.8" stroke="#111" stroke-width="1" />
<rect x="214.9" y="284.05" width="26.6" height="38.75" fill="#b84d9e"/>
<text x="218.0" y="281.45" font-family='"Liberation Sans", sans-serif' font-size="6.8" font-weight="bold" fill="#e0388a" text-anchor="start" textLength="18.8" lengthAdjust="spacingAndGlyphs" stroke="#e0388a" stroke-width="0.2" >2 GPa</text>
<text x="219.6" y="337.6" font-family='"Liberation Sans", sans-serif' font-size="10" font-weight="bold" fill="#e0307e" text-anchor="start" textLength="18.0" lengthAdjust="spacingAndGlyphs" stroke="#e0307e" stroke-width="0.3" >PET</text>
<line x1="228.20000000000002" y1="322.8" x2="228.20000000000002" y2="325.8" stroke="#111" stroke-width="1" />
<line x1="96.535" y1="322.8" x2="96.535" y2="324.8" stroke="#111" stroke-width="1" />
<line x1="149.20499999999998" y1="322.8" x2="149.20499999999998" y2="324.8" stroke="#111" stroke-width="1" />
<line x1="201.875" y1="322.8" x2="201.875" y2="324.8" stroke="#111" stroke-width="1" />
<rect x="205.7" y="173.9" width="18.5" height="8.3" fill="#000"/>
<text x="226.5" y="181.1" font-family='"Liberation Sans", sans-serif' font-size="8.2" font-weight="bold" fill="#111" text-anchor="start" stroke="#111" stroke-width="0.25" >b-CNF</text>
<rect x="205.7" y="184.4" width="18.5" height="8.3" fill="#ee1c25"/>
<text x="226.5" y="191.6" font-family='"Liberation Sans", sans-serif' font-size="8.2" font-weight="bold" fill="#e8202a" text-anchor="start" stroke="#e8202a" stroke-width="0.25" >CNF</text>
<rect x="205.7" y="194.9" width="18.5" height="8.3" fill="#3b4ea8"/>
<text x="226.5" y="202.1" font-family='"Liberation Sans", sans-serif' font-size="8.2" font-weight="bold" fill="#2e3c9c" text-anchor="start" stroke="#2e3c9c" stroke-width="0.25" >PI</text>
<rect x="205.7" y="205.4" width="18.5" height="8.3" fill="#b84d9e"/>
<text x="226.5" y="212.6" font-family='"Liberation Sans", sans-serif' font-size="8.2" font-weight="bold" fill="#c04aa8" text-anchor="start" stroke="#c04aa8" stroke-width="0.25" >PET</text>
<text x="260.8" y="167.4" font-family='"Liberation Serif", serif' font-size="17.9" font-weight="bold" fill="#000" text-anchor="start" >(d)</text>
<rect x="320.2" y="161.5" width="205.00000000000006" height="150.3" fill="none" stroke="#111" stroke-width="1.3"/>
<line x1="317.2" y1="161.5" x2="320.2" y2="161.5" stroke="#111" stroke-width="1.1" />
<line x1="318.4" y1="174.025" x2="320.2" y2="174.025" stroke="#111" stroke-width="1.1" />
<line x1="317.2" y1="186.55" x2="320.2" y2="186.55" stroke="#111" stroke-width="1.1" />
<line x1="318.4" y1="199.075" x2="320.2" y2="199.075" stroke="#111" stroke-width="1.1" />
<line x1="317.2" y1="211.60000000000002" x2="320.2" y2="211.60000000000002" stroke="#111" stroke-width="1.1" />
<line x1="318.4" y1="224.125" x2="320.2" y2="224.125" stroke="#111" stroke-width="1.1" />
<line x1="317.2" y1="236.65" x2="320.2" y2="236.65" stroke="#111" stroke-width="1.1" />
<line x1="318.4" y1="249.175" x2="320.2" y2="249.175" stroke="#111" stroke-width="1.1" />
<line x1="317.2" y1="261.70000000000005" x2="320.2" y2="261.70000000000005" stroke="#111" stroke-width="1.1" />
<line x1="318.4" y1="274.225" x2="320.2" y2="274.225" stroke="#111" stroke-width="1.1" />
<line x1="317.2" y1="286.75" x2="320.2" y2="286.75" stroke="#111" stroke-width="1.1" />
<line x1="318.4" y1="299.275" x2="320.2" y2="299.275" stroke="#111" stroke-width="1.1" />
<line x1="317.2" y1="311.8" x2="320.2" y2="311.8" stroke="#111" stroke-width="1.1" />
<text x="315.3" y="164.5" font-family='"Liberation Sans", sans-serif' font-size="8.4" font-weight="bold" fill="#222" text-anchor="end" textLength="5.0" lengthAdjust="spacingAndGlyphs" stroke="#222" stroke-width="0.3" >0</text>
<text x="315.3" y="189.55" font-family='"Liberation Sans", sans-serif' font-size="8.4" font-weight="bold" fill="#222" text-anchor="end" textLength="15.2" lengthAdjust="spacingAndGlyphs" stroke="#222" stroke-width="0.3" >100</text>
<text x="315.3" y="214.60000000000002" font-family='"Liberation Sans", sans-serif' font-size="8.4" font-weight="bold" fill="#222" text-anchor="end" textLength="15.2" lengthAdjust="spacingAndGlyphs" stroke="#222" stroke-width="0.3" >200</text>
<text x="315.3" y="239.65" font-family='"Liberation Sans", sans-serif' font-size="8.4" font-weight="bold" fill="#222" text-anchor="end" textLength="15.2" lengthAdjust="spacingAndGlyphs" stroke="#222" stroke-width="0.3" >300</text>
<text x="315.3" y="264.70000000000005" font-family='"Liberation Sans", sans-serif' font-size="8.4" font-weight="bold" fill="#222" text-anchor="end" textLength="15.2" lengthAdjust="spacingAndGlyphs" stroke="#222" stroke-width="0.3" >400</text>
<text x="315.3" y="289.75" font-family='"Liberation Sans", sans-serif' font-size="8.4" font-weight="bold" fill="#222" text-anchor="end" textLength="15.2" lengthAdjust="spacingAndGlyphs" stroke="#222" stroke-width="0.3" >500</text>
<text x="315.3" y="314.8" font-family='"Liberation Sans", sans-serif' font-size="8.4" font-weight="bold" fill="#222" text-anchor="end" textLength="15.2" lengthAdjust="spacingAndGlyphs" stroke="#222" stroke-width="0.3" >600</text>
<line x1="320.2" y1="311.8" x2="320.2" y2="314.8" stroke="#111" stroke-width="1.1" />
<line x1="354.3666666666667" y1="311.8" x2="354.3666666666667" y2="314.8" stroke="#111" stroke-width="1.1" />
<line x1="388.53333333333336" y1="311.8" x2="388.53333333333336" y2="314.8" stroke="#111" stroke-width="1.1" />
<line x1="422.7" y1="311.8" x2="422.7" y2="314.8" stroke="#111" stroke-width="1.1" />
<line x1="456.8666666666667" y1="311.8" x2="456.8666666666667" y2="314.8" stroke="#111" stroke-width="1.1" />
<line x1="491.03333333333336" y1="311.8" x2="491.03333333333336" y2="314.8" stroke="#111" stroke-width="1.1" />
<line x1="525.2" y1="311.8" x2="525.2" y2="314.8" stroke="#111" stroke-width="1.1" />
<text x="320.0" y="324.0" font-family='"Liberation Sans", sans-serif' font-size="8.6" font-weight="bold" fill="#222" text-anchor="middle" textLength="4.6" lengthAdjust="spacingAndGlyphs" stroke="#222" stroke-width="0.3" >0</text>
<text x="388.33333333333337" y="324.0" font-family='"Liberation Sans", sans-serif' font-size="8.6" font-weight="bold" fill="#222" text-anchor="middle" textLength="20.5" lengthAdjust="spacingAndGlyphs" stroke="#222" stroke-width="0.3" >1000</text>
<text x="456.6666666666667" y="324.0" font-family='"Liberation Sans", sans-serif' font-size="8.6" font-weight="bold" fill="#222" text-anchor="middle" textLength="20.5" lengthAdjust="spacingAndGlyphs" stroke="#222" stroke-width="0.3" >2000</text>
<text x="525.0" y="324.0" font-family='"Liberation Sans", sans-serif' font-size="8.6" font-weight="bold" fill="#222" text-anchor="middle" textLength="20.5" lengthAdjust="spacingAndGlyphs" stroke="#222" stroke-width="0.3" >3000</text>
<text x="425.5" y="339.2" font-family='"Liberation Sans", sans-serif' font-size="12" font-weight="bold" fill="#111" text-anchor="middle" textLength="91" lengthAdjust="spacingAndGlyphs" stroke="#111" stroke-width="0.3" >Bending cycles</text>
<text transform="translate(294.6,237.8) rotate(-90)" text-anchor="middle" font-family='"Liberation Sans", sans-serif' font-size="13.4" font-weight="bold" fill="#111" textLength="155.6" lengthAdjust="spacingAndGlyphs">Square resistance (&#937;/sq)</text>
<clipPath id="dclip"><rect x="320.2" y="161.5" width="206.00000000000006" height="150.3"/></clipPath>
<g clip-path="url(#dclip)">
<polyline points="320.20,169.27 333.87,169.34 347.53,169.42 361.20,169.49 374.87,169.57 388.53,169.64 402.20,169.72 415.87,169.79 429.53,169.87 443.20,169.94 456.87,170.02 470.53,170.09 484.20,170.17 497.87,170.24 511.53,170.32 525.20,170.39" fill="none" stroke="#3a44b8" stroke-width="1.4" stroke-linejoin="round"/>
<circle cx="320.20" cy="169.27" r="1.8" fill="#3a44b8" stroke="#28308a" stroke-width="0.7"/>
<circle cx="333.87" cy="169.34" r="1.8" fill="#3a44b8" stroke="#28308a" stroke-width="0.7"/>
<circle cx="347.53" cy="169.42" r="1.8" fill="#3a44b8" stroke="#28308a" stroke-width="0.7"/>
<circle cx="361.20" cy="169.49" r="1.8" fill="#3a44b8" stroke="#28308a" stroke-width="0.7"/>
<circle cx="374.87" cy="169.57" r="1.8" fill="#3a44b8" stroke="#28308a" stroke-width="0.7"/>
<circle cx="388.53" cy="169.64" r="1.8" fill="#3a44b8" stroke="#28308a" stroke-width="0.7"/>
<circle cx="402.20" cy="169.72" r="1.8" fill="#3a44b8" stroke="#28308a" stroke-width="0.7"/>
<circle cx="415.87" cy="169.79" r="1.8" fill="#3a44b8" stroke="#28308a" stroke-width="0.7"/>
<circle cx="429.53" cy="169.87" r="1.8" fill="#3a44b8" stroke="#28308a" stroke-width="0.7"/>
<circle cx="443.20" cy="169.94" r="1.8" fill="#3a44b8" stroke="#28308a" stroke-width="0.7"/>
<circle cx="456.87" cy="170.02" r="1.8" fill="#3a44b8" stroke="#28308a" stroke-width="0.7"/>
<circle cx="470.53" cy="170.09" r="1.8" fill="#3a44b8" stroke="#28308a" stroke-width="0.7"/>
<circle cx="484.20" cy="170.17" r="1.8" fill="#3a44b8" stroke="#28308a" stroke-width="0.7"/>
<circle cx="497.87" cy="170.24" r="1.8" fill="#3a44b8" stroke="#28308a" stroke-width="0.7"/>
<circle cx="511.53" cy="170.32" r="1.8" fill="#3a44b8" stroke="#28308a" stroke-width="0.7"/>
<circle cx="525.20" cy="170.39" r="1.8" fill="#3a44b8" stroke="#28308a" stroke-width="0.7"/>
<polyline points="320.20,168.01 333.87,168.01 347.53,168.01 361.20,168.01 374.87,168.01 388.53,168.01 402.20,168.01 415.87,168.01 429.53,168.01 443.20,168.01 456.87,168.01 470.53,168.01 484.20,168.01 497.87,176.03 525.20,293.51" fill="none" stroke="#111111" stroke-width="1.4" stroke-linejoin="round"/>
<circle cx="320.20" cy="168.01" r="1.8" fill="#111111" stroke="#000" stroke-width="0.7"/>
<circle cx="333.87" cy="168.01" r="1.8" fill="#111111" stroke="#000" stroke-width="0.7"/>
<circle cx="347.53" cy="168.01" r="1.8" fill="#111111" stroke="#000" stroke-width="0.7"/>
<circle cx="361.20" cy="168.01" r="1.8" fill="#111111" stroke="#000" stroke-width="0.7"/>
<circle cx="374.87" cy="168.01" r="1.8" fill="#111111" stroke="#000" stroke-width="0.7"/>
<circle cx="388.53" cy="168.01" r="1.8" fill="#111111" stroke="#000" stroke-width="0.7"/>
<circle cx="402.20" cy="168.01" r="1.8" fill="#111111" stroke="#000" stroke-width="0.7"/>
<circle cx="415.87" cy="168.01" r="1.8" fill="#111111" stroke="#000" stroke-width="0.7"/>
<circle cx="429.53" cy="168.01" r="1.8" fill="#111111" stroke="#000" stroke-width="0.7"/>
<circle cx="443.20" cy="168.01" r="1.8" fill="#111111" stroke="#000" stroke-width="0.7"/>
<circle cx="456.87" cy="168.01" r="1.8" fill="#111111" stroke="#000" stroke-width="0.7"/>
<circle cx="470.53" cy="168.01" r="1.8" fill="#111111" stroke="#000" stroke-width="0.7"/>
<circle cx="484.20" cy="168.01" r="1.8" fill="#111111" stroke="#000" stroke-width="0.7"/>
<circle cx="497.87" cy="176.03" r="1.8" fill="#111111" stroke="#000" stroke-width="0.7"/>
<circle cx="525.20" cy="293.51" r="1.8" fill="#111111" stroke="#000" stroke-width="0.7"/>
<polyline points="320.20,168.01 327.03,168.01 333.87,168.01 340.70,168.01 347.53,168.01 354.37,168.01 361.20,168.01 368.03,168.01 374.87,168.01 381.70,168.01 388.53,168.01 395.37,168.01 402.20,168.01 409.03,168.01 415.87,168.01 422.70,168.01 429.53,168.01 436.37,168.01 443.20,191.56 450.03,311.80" fill="none" stroke="#c655b8" stroke-width="1.4" stroke-linejoin="round"/>
<circle cx="320.20" cy="168.01" r="1.8" fill="#c655b8" stroke="#a03494" stroke-width="0.7"/>
<circle cx="327.03" cy="168.01" r="1.8" fill="#c655b8" stroke="#a03494" stroke-width="0.7"/>
<circle cx="333.87" cy="168.01" r="1.8" fill="#c655b8" stroke="#a03494" stroke-width="0.7"/>
<circle cx="340.70" cy="168.01" r="1.8" fill="#c655b8" stroke="#a03494" stroke-width="0.7"/>
<circle cx="347.53" cy="168.01" r="1.8" fill="#c655b8" stroke="#a03494" stroke-width="0.7"/>
<circle cx="354.37" cy="168.01" r="1.8" fill="#c655b8" stroke="#a03494" stroke-width="0.7"/>
<circle cx="361.20" cy="168.01" r="1.8" fill="#c655b8" stroke="#a03494" stroke-width="0.7"/>
<circle cx="368.03" cy="168.01" r="1.8" fill="#c655b8" stroke="#a03494" stroke-width="0.7"/>
<circle cx="374.87" cy="168.01" r="1.8" fill="#c655b8" stroke="#a03494" stroke-width="0.7"/>
<circle cx="381.70" cy="168.01" r="1.8" fill="#c655b8" stroke="#a03494" stroke-width="0.7"/>
<circle cx="388.53" cy="168.01" r="1.8" fill="#c655b8" stroke="#a03494" stroke-width="0.7"/>
<circle cx="395.37" cy="168.01" r="1.8" fill="#c655b8" stroke="#a03494" stroke-width="0.7"/>
<circle cx="402.20" cy="168.01" r="1.8" fill="#c655b8" stroke="#a03494" stroke-width="0.7"/>
<circle cx="409.03" cy="168.01" r="1.8" fill="#c655b8" stroke="#a03494" stroke-width="0.7"/>
<circle cx="415.87" cy="168.01" r="1.8" fill="#c655b8" stroke="#a03494" stroke-width="0.7"/>
<circle cx="422.70" cy="168.01" r="1.8" fill="#c655b8" stroke="#a03494" stroke-width="0.7"/>
<circle cx="429.53" cy="168.01" r="1.8" fill="#c655b8" stroke="#a03494" stroke-width="0.7"/>
<circle cx="436.37" cy="168.01" r="1.8" fill="#c655b8" stroke="#a03494" stroke-width="0.7"/>
<circle cx="443.20" cy="191.56" r="1.8" fill="#c655b8" stroke="#a03494" stroke-width="0.7"/>
<polyline points="320.20,168.01 327.03,168.01 333.87,168.01 340.70,168.01 347.53,168.01 354.37,168.01 361.20,168.01 368.03,168.01 374.87,168.01 381.70,168.01 388.53,168.01 395.37,168.01 402.20,168.01 409.03,168.01 415.87,168.01 422.70,168.01 429.53,168.01 436.37,168.01 443.20,168.01 450.03,168.01 456.87,168.01 463.70,168.01 470.53,168.01 484.20,179.03 497.87,286.50 499.37,311.80" fill="none" stroke="#9a3598" stroke-width="1.4" stroke-linejoin="round"/>
<circle cx="320.20" cy="168.01" r="1.8" fill="#9a3598" stroke="#6e1e70" stroke-width="0.7"/>
<circle cx="327.03" cy="168.01" r="1.8" fill="#9a3598" stroke="#6e1e70" stroke-width="0.7"/>
<circle cx="333.87" cy="168.01" r="1.8" fill="#9a3598" stroke="#6e1e70" stroke-width="0.7"/>
<circle cx="340.70" cy="168.01" r="1.8" fill="#9a3598" stroke="#6e1e70" stroke-width="0.7"/>
<circle cx="347.53" cy="168.01" r="1.8" fill="#9a3598" stroke="#6e1e70" stroke-width="0.7"/>
<circle cx="354.37" cy="168.01" r="1.8" fill="#9a3598" stroke="#6e1e70" stroke-width="0.7"/>
<circle cx="361.20" cy="168.01" r="1.8" fill="#9a3598" stroke="#6e1e70" stroke-width="0.7"/>
<circle cx="368.03" cy="168.01" r="1.8" fill="#9a3598" stroke="#6e1e70" stroke-width="0.7"/>
<circle cx="374.87" cy="168.01" r="1.8" fill="#9a3598" stroke="#6e1e70" stroke-width="0.7"/>
<circle cx="381.70" cy="168.01" r="1.8" fill="#9a3598" stroke="#6e1e70" stroke-width="0.7"/>
<circle cx="388.53" cy="168.01" r="1.8" fill="#9a3598" stroke="#6e1e70" stroke-width="0.7"/>
<circle cx="395.37" cy="168.01" r="1.8" fill="#9a3598" stroke="#6e1e70" stroke-width="0.7"/>
<circle cx="402.20" cy="168.01" r="1.8" fill="#9a3598" stroke="#6e1e70" stroke-width="0.7"/>
<circle cx="409.03" cy="168.01" r="1.8" fill="#9a3598" stroke="#6e1e70" stroke-width="0.7"/>
<circle cx="415.87" cy="168.01" r="1.8" fill="#9a3598" stroke="#6e1e70" stroke-width="0.7"/>
<circle cx="422.70" cy="168.01" r="1.8" fill="#9a3598" stroke="#6e1e70" stroke-width="0.7"/>
<circle cx="429.53" cy="168.01" r="1.8" fill="#9a3598" stroke="#6e1e70" stroke-width="0.7"/>
<circle cx="436.37" cy="168.01" r="1.8" fill="#9a3598" stroke="#6e1e70" stroke-width="0.7"/>
<circle cx="443.20" cy="168.01" r="1.8" fill="#9a3598" stroke="#6e1e70" stroke-width="0.7"/>
<circle cx="450.03" cy="168.01" r="1.8" fill="#9a3598" stroke="#6e1e70" stroke-width="0.7"/>
<circle cx="456.87" cy="168.01" r="1.8" fill="#9a3598" stroke="#6e1e70" stroke-width="0.7"/>
<circle cx="463.70" cy="168.01" r="1.8" fill="#9a3598" stroke="#6e1e70" stroke-width="0.7"/>
<circle cx="470.53" cy="168.01" r="1.8" fill="#9a3598" stroke="#6e1e70" stroke-width="0.7"/>
<circle cx="484.20" cy="179.03" r="1.8" fill="#9a3598" stroke="#6e1e70" stroke-width="0.7"/>
<circle cx="497.87" cy="286.50" r="1.8" fill="#9a3598" stroke="#6e1e70" stroke-width="0.7"/>
</g>
<line x1="348" y1="185.0" x2="366" y2="185.0" stroke="#111111" stroke-width="1.2" />
<circle cx="357.60" cy="185.00" r="1.6" fill="#111111" stroke="none" stroke-width="0"/>
<text x="369" y="187.8" font-family='"Liberation Sans", sans-serif' font-size="8.2" font-weight="bold" fill="#111" text-anchor="start" textLength="68.6" lengthAdjust="spacingAndGlyphs" stroke="#111" stroke-width="0.25" >CNF/IZO R= 2 mm</text>
<line x1="348" y1="195.45" x2="366" y2="195.45" stroke="#3a44b8" stroke-width="1.2" />
<circle cx="357.60" cy="195.45" r="1.6" fill="#3a44b8" stroke="none" stroke-width="0"/>
<text x="369" y="198.25" font-family='"Liberation Sans", sans-serif' font-size="8.2" font-weight="bold" fill="#3a48b4" text-anchor="start" textLength="68.6" lengthAdjust="spacingAndGlyphs" stroke="#3a48b4" stroke-width="0.25" >CNF/IZO R= 4 mm</text>
<line x1="348" y1="205.9" x2="366" y2="205.9" stroke="#c655b8" stroke-width="1.2" />
<circle cx="357.60" cy="205.90" r="1.6" fill="#c655b8" stroke="none" stroke-width="0"/>
<text x="369" y="208.70000000000002" font-family='"Liberation Sans", sans-serif' font-size="8.2" font-weight="bold" fill="#cc50b8" text-anchor="start" textLength="68.6" lengthAdjust="spacingAndGlyphs" stroke="#cc50b8" stroke-width="0.25" >PET/IZO R= 2 mm</text>
<line x1="348" y1="216.35" x2="366" y2="216.35" stroke="#9a3598" stroke-width="1.2" />
<circle cx="357.60" cy="216.35" r="1.6" fill="#9a3598" stroke="none" stroke-width="0"/>
<text x="369" y="219.15" font-family='"Liberation Sans", sans-serif' font-size="8.2" font-weight="bold" fill="#7e2a80" text-anchor="start" textLength="68.6" lengthAdjust="spacingAndGlyphs" stroke="#7e2a80" stroke-width="0.25" >PET/IZO R= 4 mm</text>
</svg>
</body></html>
